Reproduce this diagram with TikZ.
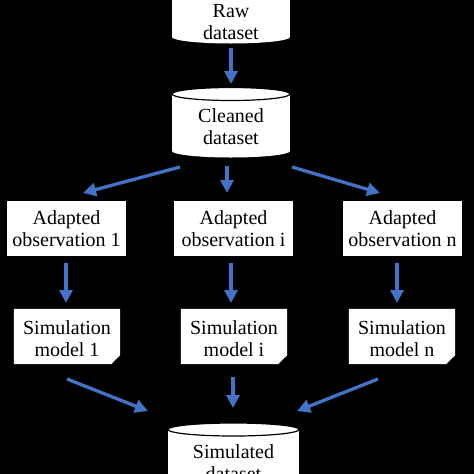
\documentclass[tikz,border=0pt]{standalone}
\usepackage{fontspec}
\setmainfont{Liberation Serif}
\usetikzlibrary{arrows.meta,calc}
\definecolor{arrowblue}{HTML}{4472C4}
\begin{document}
\begin{tikzpicture}[x=1pt,y=-1pt,
  txt/.style={align=center,font=\fontsize{20}{22}\selectfont,inner sep=0pt},
  abox/.style={fill=white,minimum width=119pt,minimum height=55pt,inner sep=0pt},
  sbox/.style={minimum width=106pt,minimum height=55pt,inner sep=0pt},
  conn/.style={draw=arrowblue,line width=3.3pt,-{Triangle[length=13pt,width=13pt]}},
  rim/.style={draw=black,line width=1.2pt}]
\fill[black] (0,0) rectangle (474,474);
\useasboundingbox (0,0) rectangle (474,474);
% Raw dataset cylinder
\fill[white] (172,-20) rectangle (290,37);
\fill[white] (231,37) ellipse [x radius=59, y radius=6.5];
\node[txt] (raw) at (231,22) {Raw\\dataset};
% Cleaned dataset cylinder
\fill[white] (172,94) rectangle (290,151);
\fill[white] (231,151) ellipse [x radius=59, y radius=6.5];
\fill[white] (231,94) ellipse [x radius=59, y radius=6.5];
\draw[rim] (231,94) ellipse [x radius=59, y radius=6.5];
\node[txt] (clean) at (231,127) {Cleaned\\dataset};
% Simulated dataset cylinder
\fill[white] (168,429.5) rectangle (299,500);
\fill[white] (233.5,429.5) ellipse [x radius=65.5, y radius=6.5];
\draw[rim] (233.5,429.5) ellipse [x radius=65.5, y radius=6.5];
\node[txt] (simd) at (233.5,463) {Simulated\\dataset};
% Adapted observation boxes
\node[abox] (a1) at (66.5,228.5) {};
\node[abox] (ai) at (233.5,228.5) {};
\node[abox] (an) at (402.5,228.5) {};
\node[txt] at (a1) {Adapted\\observation 1};
\node[txt] at (ai) {Adapted\\observation i};
\node[txt] at (an) {Adapted\\observation n};
% Simulation model boxes (folded corner)
\foreach \n/\x in {s1/67,si/234,sn/402}{
  \node[sbox] (\n) at (\x,336.5) {};
  \fill[white] (\n.north west) -- (\n.north east) -- ([yshift=9pt]\n.south east)
     -- ([xshift=-9pt]\n.south east) -- (\n.south west) -- cycle;
  \fill[white] ([xshift=-9pt]\n.south east) -- ([yshift=9pt]\n.south east)
     -- ([xshift=-4pt,yshift=5pt]\n.south east) -- cycle;
  \fill[black] ([xshift=-7.5pt,yshift=1pt]\n.south east) -- ([xshift=-1pt,yshift=7.5pt]\n.south east)
     -- ([xshift=-4.5pt,yshift=4.5pt]\n.south east) -- cycle;
}
\node[txt] at (67,338.5) {Simulation\\model 1};
\node[txt] at (234,338.5) {Simulation\\model i};
\node[txt] at (402,338.5) {Simulation\\model n};
% Arrow end points
\coordinate (r0) at (231,48);   \coordinate (r1) at (231,84);
\coordinate (c1) at (180,167);  \coordinate (c1e) at (83,193);
\coordinate (ci) at (227,166);  \coordinate (cie) at (227,193);
\coordinate (cn) at (292,167);  \coordinate (cne) at (380,193);
\coordinate (a1s) at (66,263);  \coordinate (a1e) at (66,303);
\coordinate (ais) at (231,263); \coordinate (aie) at (231,303);
\coordinate (ans) at (397,263); \coordinate (ane) at (397,303);
\coordinate (s1s) at (67,379);  \coordinate (s1e) at (148,411);
\coordinate (sis) at (233,377); \coordinate (sie) at (233,408);
\coordinate (sns) at (378,379); \coordinate (sne) at (297,411);
% Connectors
\draw[conn] (r0) -- (r1);
\draw[conn] (c1) -- (c1e);
\draw[conn] (ci) -- (cie);
\draw[conn] (cn) -- (cne);
\draw[conn] (a1s) -- (a1e);
\draw[conn] (ais) -- (aie);
\draw[conn] (ans) -- (ane);
\draw[conn] (s1s) -- (s1e);
\draw[conn] (sis) -- (sie);
\draw[conn] (sns) -- (sne);
\end{tikzpicture}
\end{document}
